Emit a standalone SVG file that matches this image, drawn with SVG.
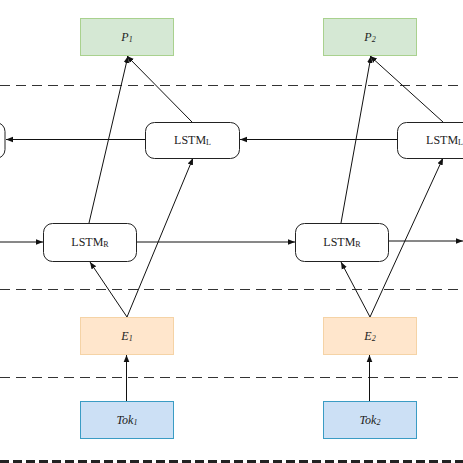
<svg xmlns="http://www.w3.org/2000/svg" width="463" height="463" viewBox="0 0 463 463">
<defs>
<style>
.lstm{fill:#ffffff;stroke:#222;stroke-width:1}
.p{fill:#d5e8d4;stroke:#a9d18e;stroke-width:1}
.e{fill:#ffe6cc;stroke:#f5d3a6;stroke-width:1}
.t{fill:#cce0f5;stroke:#3a9cc4;stroke-width:1}
.lbl{font-family:"Liberation Serif",serif;font-size:12px;fill:#222;text-anchor:middle}
.it{font-style:italic}
.sub{font-size:8px}
.dash{stroke:#333;stroke-width:1;stroke-dasharray:10 6;fill:none}
.edge{stroke:#111;stroke-width:1;fill:none;marker-end:url(#ah)}
</style>
<marker id="ah" viewBox="0 0 10 10" refX="10" refY="5" markerWidth="7" markerHeight="7" markerUnits="userSpaceOnUse" orient="auto">
<path d="M0,1 L10,5 L0,9 Z" fill="#111"/>
</marker>
</defs>
<rect width="463" height="463" fill="#ffffff"/>
<g id="separators">
<line class="dash" x1="0" y1="85.5" x2="463" y2="85.5"/>
<line class="dash" x1="0" y1="289.5" x2="463" y2="289.5"/>
<line class="dash" x1="0" y1="377.5" x2="463" y2="377.5"/>
<line x1="0" y1="461.5" x2="463" y2="461.5" stroke="#222" stroke-width="3" stroke-dasharray="9 4"/>
</g>
<g id="connectors">
<line class="edge" x1="126.5" y1="401" x2="126.5" y2="355"/>
<line class="edge" x1="369.5" y1="401" x2="369.5" y2="355"/>
<line class="edge" x1="127" y1="317" x2="90" y2="262"/>
<line class="edge" x1="127" y1="317" x2="193" y2="158"/>
<line class="edge" x1="370" y1="317" x2="341" y2="262"/>
<line class="edge" x1="370" y1="317" x2="443" y2="158"/>
<line class="edge" x1="89" y1="223" x2="128" y2="56"/>
<line class="edge" x1="192" y1="122" x2="127" y2="56"/>
<line class="edge" x1="341" y1="223" x2="371" y2="56"/>
<line class="edge" x1="443" y1="122" x2="370" y2="56"/>
<line class="edge" x1="145" y1="139.5" x2="6" y2="139.5"/>
<line class="edge" x1="397" y1="139.5" x2="240" y2="139.5"/>
<line class="edge" x1="0" y1="242" x2="43" y2="242"/>
<line class="edge" x1="137" y1="242" x2="295" y2="242"/>
<line class="edge" x1="388" y1="241" x2="463" y2="241"/>
</g>
<g id="P1"><rect class="p" x="80.5" y="18.5" width="93" height="37"/><text class="lbl it" x="127" y="41">P<tspan class="sub" dy="1">1</tspan></text></g>
<g id="P2"><rect class="p" x="323.5" y="18.5" width="93" height="37"/><text class="lbl it" x="370" y="41">P<tspan class="sub" dy="1">2</tspan></text></g>
<g id="LSTM_L0"><rect class="lstm" x="-89" y="122.5" width="94" height="36" rx="9"/></g>
<g id="LSTM_L1"><rect class="lstm" x="145.5" y="122.5" width="94" height="36" rx="9"/><text class="lbl" x="192.5" y="144">LSTM<tspan class="sub" dy="1">L</tspan></text></g>
<g id="LSTM_L2"><rect class="lstm" x="397.5" y="122.5" width="94" height="36" rx="9"/><text class="lbl" x="444.5" y="144">LSTM<tspan class="sub" dy="1">L</tspan></text></g>
<g id="LSTM_R1"><rect class="lstm" x="43.5" y="223.5" width="93" height="38" rx="9"/><text class="lbl" x="90" y="246">LSTM<tspan class="sub" dy="1">R</tspan></text></g>
<g id="LSTM_R2"><rect class="lstm" x="295.5" y="223.5" width="93" height="38" rx="9"/><text class="lbl" x="342" y="246">LSTM<tspan class="sub" dy="1">R</tspan></text></g>
<g id="E1"><rect class="e" x="80.5" y="317.5" width="93" height="37"/><text class="lbl it" x="127" y="340">E<tspan class="sub" dy="1">1</tspan></text></g>
<g id="E2"><rect class="e" x="323.5" y="317.5" width="93" height="37"/><text class="lbl it" x="370" y="340">E<tspan class="sub" dy="1">2</tspan></text></g>
<g id="Tok1"><rect class="t" x="80.5" y="401.5" width="93" height="37"/><text class="lbl it" x="127" y="424">Tok<tspan class="sub" dy="1">1</tspan></text></g>
<g id="Tok2"><rect class="t" x="323.5" y="401.5" width="93" height="37"/><text class="lbl it" x="370" y="424">Tok<tspan class="sub" dy="1">2</tspan></text></g>
</svg>
